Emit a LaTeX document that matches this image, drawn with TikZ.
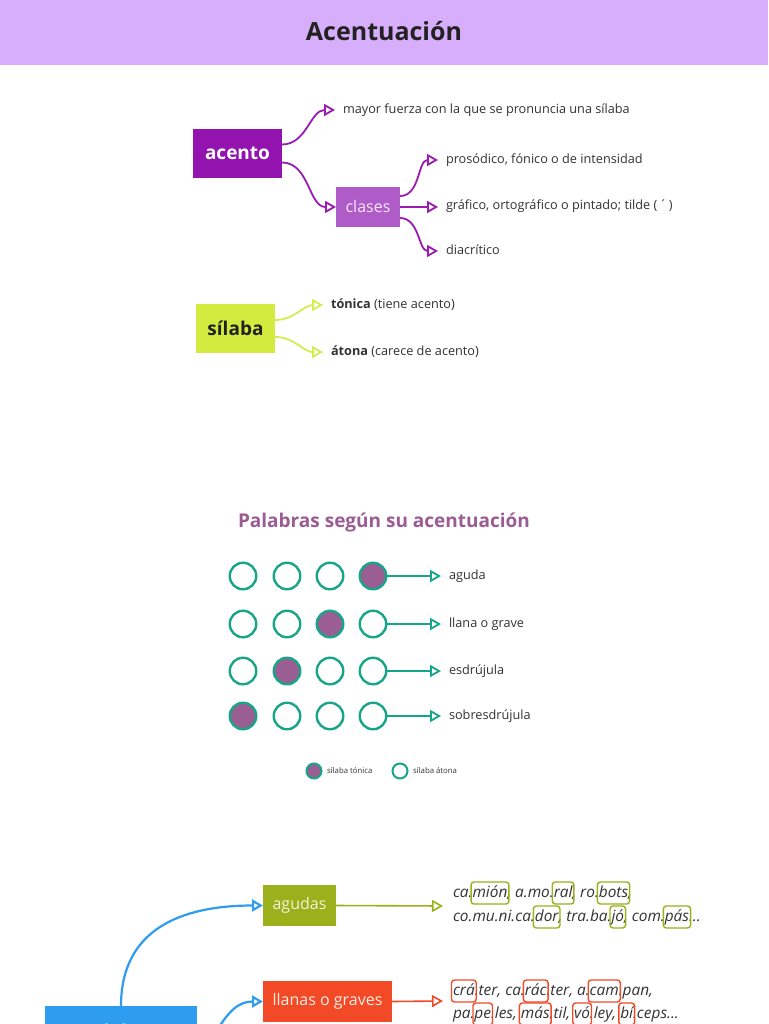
\documentclass[tikz,border=0pt]{standalone}
\usepackage{fontspec}
\setmainfont{Open Sans}
\usetikzlibrary{arrows.meta,calc}
\definecolor{headbg}{HTML}{D7AEFB}
\definecolor{txt}{HTML}{333333}
\definecolor{txtd}{HTML}{222222}
\definecolor{acentoc}{HTML}{9313AF}
\definecolor{clasesc}{HTML}{B05CC8}
\definecolor{clasestxt}{HTML}{F5E6F7}
\definecolor{pline}{HTML}{9A1CB1}
\definecolor{silc}{HTML}{D3EB3F}
\definecolor{sline}{HTML}{D5EC4D}
\definecolor{teal}{HTML}{17A58A}
\definecolor{mauve}{HTML}{9A5E92}
\definecolor{mauvet}{HTML}{9B5B93}
\definecolor{olivec}{HTML}{9AB11B}
\definecolor{olivetxt}{HTML}{F0F4D8}
\definecolor{redc}{HTML}{F24A26}
\definecolor{redtxt}{HTML}{FDEDE6}
\definecolor{bluec}{HTML}{2E9CEF}
\newcommand\sylbox[2]{\draw[draw=#1,line width=1.4pt,rounded corners=3pt] ($(#2.base west)+(-1.5,-15)$) rectangle ($(#2.base east)+(1.5,7)$);}
\begin{document}
\begin{tikzpicture}[x=1pt,y=-1pt,
  every node/.style={inner sep=0pt,outer sep=0pt},
  box/.style={rectangle},
  lbl/.style={anchor=west,text=txt,font=\fontsize{12.7}{15}\selectfont,text height=9.5pt,text depth=2.7pt},
  small/.style={anchor=west,text=txt,font=\fontsize{7.8}{9}\selectfont,text height=6pt,text depth=1.8pt},
  ital/.style={anchor=base west,text=txt,font=\itshape\fontsize{15.4}{18}\selectfont},
  tip/.style={-{Triangle[open,length=11pt,width=12pt]}},
  pcon/.style={draw=pline,line width=1.8pt,tip},
  scon/.style={draw=sline,line width=1.8pt,tip},
  tcon/.style={draw=teal,line width=1.8pt,tip},
  ocon/.style={draw=olivec,line width=1.6pt,tip},
  rcon/.style={draw=redc,line width=1.6pt,tip},
  bcon/.style={draw=bluec,line width=2.2pt,tip},
  dot/.style={circle,draw=teal,line width=2.4pt,minimum size=26.5pt,fill=white}
]
\clip (0,0) rectangle (768,1024);
\fill[white] (0,0) rectangle (768,1024);
% header
\fill[headbg] (0,0) rectangle (768,65);
\node[font=\bfseries\fontsize{25}{29}\selectfont,text=txtd] (title) at (384,31) {Acentuación};

% acento
\node[box,fill=acentoc,text=white,minimum width=89pt,minimum height=49pt,font=\bfseries\fontsize{19}{23}\selectfont] (acento) at (237.5,153.5) {acento};
\node[lbl] (t1) at (343,110) {mayor fuerza con la que se pronuncia una sílaba};
\node[box,fill=clasesc,text=clasestxt,minimum width=64pt,minimum height=40pt,font=\fontsize{16}{19}\selectfont] (clases) at (368,207) {clases};
\node[lbl] (c1) at (446,160) {prosódico, fónico o de intensidad};
\node[lbl] (c2) at (446,206) {gráfico, ortográfico o pintado; tilde (\,´\,)};
\node[lbl] (c3) at (446,251) {diacrítico};
\draw[pcon] ($(acento.east)+(0,-9)$) to[out=0,in=180] ($(t1.west)+(-8,0)$);
\draw[pcon] ($(acento.east)+(0,9)$) to[out=0,in=180] (clases.west);
\draw[pcon] ($(clases.east)+(0,-11)$) to[out=0,in=180] ($(c1.west)+(-8,0)$);
\draw[pcon] (clases.east) -- ($(c2.west)+(-8,1)$);
\draw[pcon] ($(clases.east)+(0,11)$) to[out=0,in=180] ($(c3.west)+(-8,0)$);

% silaba
\node[box,fill=silc,text=txtd,minimum width=79pt,minimum height=49pt,font=\bfseries\fontsize{19}{23}\selectfont] (silaba) at (235.5,328.5) {sílaba};
\node[lbl] (s1) at (331,305) {\textbf{tónica} (tiene acento)};
\node[lbl] (s2) at (331,352) {\textbf{átona} (carece de acento)};
\draw[scon] ($(silaba.east)+(0,-8.5)$) to[out=0,in=180] ($(s1.west)+(-8,0)$);
\draw[scon] ($(silaba.east)+(0,8.5)$) to[out=0,in=180] ($(s2.west)+(-8,0)$);

% palabras segun su acentuacion
\node[font=\bfseries\fontsize{19}{23}\selectfont,text=mauvet] (ptitle) at (384,522) {Palabras según su acentuación};
\foreach \r/\y/\f in {1/576/4,2/624/3,3/671/2,4/716/1}{
  \foreach \c/\x in {1/243,2/287,3/330,4/373}{
    \ifnum\c=\f
      \node[dot,fill=mauve] (d\r\c) at (\x,\y) {};
    \else
      \node[dot] (d\r\c) at (\x,\y) {};
    \fi
  }
}
\foreach \r/\y/\t in {1/576/aguda,2/624/llana o grave,3/671/esdrújula,4/716/sobresdrújula}{
  \node[lbl] (w\r) at (449,\y) {\t};
  \draw[tcon] (d\r4.east) -- ($(w\r.west)+(-8,0)$);
}
% legend
\node[dot,fill=mauve,minimum size=15pt,line width=2pt] (lg1) at (314,771) {};
\node[small] (lgt1) at (327,771) {sílaba tónica};
\node[dot,minimum size=15pt,line width=2pt] (lg2) at (400,771) {};
\node[small] (lgt2) at (413,771) {sílaba átona};

% bottom
\node[box,fill=olivec,text=olivetxt,minimum width=73pt,minimum height=41pt,font=\fontsize{16}{19}\selectfont] (agudas) at (299.5,905.5) {agudas};
\node[box,fill=redc,text=redtxt,minimum width=129pt,minimum height=41pt,font=\fontsize{16}{19}\selectfont] (llanas) at (327.5,1001.5) {llanas o graves};
\node[box,fill=bluec,text=white,minimum width=152pt,text height=32pt,text depth=48pt,font=\bfseries\fontsize{19}{23}\selectfont] (pal) at (121,1046) {palabras};
\coordinate (ag) at (443,906);
\coordinate (ll) at (443,1001);
\draw[ocon] (agudas.east) -- (ag);
\draw[rcon] (llanas.east) -- (ll);
\draw[bcon] (pal.north) .. controls +(0,-76) and +(-83,0) .. (agudas.west);
\draw[bcon] (pal.east) .. controls +(20,0) and +(-40,0) .. (llanas.west);

% example words agudas
\node[ital] (a1) at (453,897) {ca.};
\node[ital] (a2) at (a1.base east) {mión};
\node[ital] (a3) at (a2.base east) {, a.mo.};
\node[ital] (a4) at (a3.base east) {ral};
\node[ital] (a5) at (a4.base east) {, ro.};
\node[ital] (a6) at (a5.base east) {bots};
\node[ital] (a7) at (a6.base east) {,};
\node[ital] (b1) at (453,921) {co.mu.ni.ca.};
\node[ital] (b2) at (b1.base east) {dor};
\node[ital] (b3) at (b2.base east) {, tra.ba.};
\node[ital] (b4) at (b3.base east) {jó};
\node[ital] (b5) at (b4.base east) {, com.};
\node[ital] (b6) at (b5.base east) {pás};
\node[ital] (b7) at (b6.base east) {...};
\foreach \n in {a2,a4,a6,b2,b4,b6}{\sylbox{olivec}{\n}}

% example words llanas
\node[ital] (e1) at (453,995) {crá};
\node[ital] (e2) at (e1.base east) {.ter, ca.};
\node[ital] (e3) at (e2.base east) {rác};
\node[ital] (e4) at (e3.base east) {.ter, a.};
\node[ital] (e5) at (e4.base east) {cam};
\node[ital] (e6) at (e5.base east) {.pan,};
\node[ital] (f1) at (453,1018) {pa.};
\node[ital] (f2) at (f1.base east) {pe};
\node[ital] (f3) at (f2.base east) {.les,\ \null};
\node[ital] (f4) at (f3.base east) {más};
\node[ital] (f5) at (f4.base east) {.til,\ \null};
\node[ital] (f6) at (f5.base east) {vó};
\node[ital] (f7) at (f6.base east) {.ley,\ \null};
\node[ital] (f8) at (f7.base east) {bí};
\node[ital] (f9) at (f8.base east) {.ceps...};
\foreach \n in {e1,e3,e5,f2,f4,f6,f8}{\sylbox{redc}{\n}}
\end{tikzpicture}
\end{document}
